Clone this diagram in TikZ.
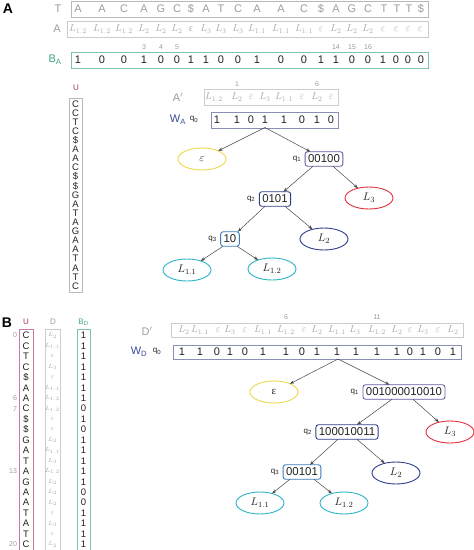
\documentclass[tikz,border=0pt]{standalone}
\usepackage{fontspec}
\setmainfont{Liberation Sans}
\newfontfamily\grk{Liberation Serif}
\usetikzlibrary{shapes.geometric,arrows.meta}
\newcommand\fsz[1]{\fontsize{#1}{#1}\selectfont}
\newcommand\Ll[1]{$L_{#1}$}
\newcommand\ve{$\varepsilon$}
\newcommand\ue{{\grk ε}}
\definecolor{txtgray}{HTML}{9C9C9C}
\definecolor{lighttxt}{HTML}{A8A8A8}
\definecolor{boxgray}{HTML}{B8B8B8}
\definecolor{lightbox}{HTML}{CCCCCC}
\definecolor{bagreen}{HTML}{3FA57E}
\definecolor{boxgreen}{HTML}{7CC3A8}
\definecolor{wblue}{HTML}{3A4B9A}
\definecolor{wbox}{HTML}{8A8FB8}
\definecolor{cyel}{HTML}{EDD84A}
\definecolor{cpur}{HTML}{6A58A4}
\definecolor{cred}{HTML}{E2303C}
\definecolor{cnavy}{HTML}{2F3E8E}
\definecolor{cblue}{HTML}{3A7DC0}
\definecolor{ccyan}{HTML}{2AB3C9}
\definecolor{umag}{HTML}{A0305E}
\definecolor{ubox}{HTML}{C77AA5}
\definecolor{dtxt}{HTML}{222222}
\begin{document}
\begin{tikzpicture}[x=1pt,y=-1pt,
  every node/.style={inner sep=0pt,outer sep=0pt},
  panel/.style={font=\fsz{14}\bfseries,text=black},
  lab/.style={font=\fsz{11}},
  cell/.style={font=\fsz{11},text=txtgray},
  lcell/.style={font=\fsz{10},text=lighttxt},
  bit/.style={font=\fsz{11},text=dtxt},
  idx/.style={font=\fsz{7},text=txtgray},
  qlab/.style={font=\fsz{8},text=dtxt,anchor=east},
  bnode/.style={rectangle,rounded corners=2.5pt,line width=0.9pt,inner xsep=3pt,inner ysep=0pt,minimum height=14.5pt,font=\fsz{11.4},text=dtxt},
  ell/.style={ellipse,line width=0.9pt,minimum width=48pt,minimum height=22pt,font=\fsz{11},text=dtxt},
  arr/.style={draw=black!72,line width=0.5pt,-{Stealth[length=4.5pt,width=3.2pt]}},
  ucell/.style={font=\fsz{9.5},text=dtxt},
  dcell/.style={font=\fsz{6.5},text=lighttxt},
  gcell/.style={font=\fsz{9.5},text=dtxt}]
\useasboundingbox (0,0) rectangle (474,550);

% ---------------- Panel A ----------------
\node[panel] (pA) at (8,9) {A};
\node[lab,text=txtgray] (lT) at (58,9) {T};
\draw[boxgray,line width=0.8pt] (71,1) rectangle (428,17);
\foreach \x/\c [count=\i] in {78/A,102/A,124/C,144/A,161/G,177/C,191/\$,206/A,221/T,238/C,257/A,281/A,304/C,321/\$,336/A,352/G,368/C,384/T,397/T,409/T,421/\$}
  \node[cell] (t\i) at (\x,9) {\c};

\node[lab,text=txtgray] (lA) at (57,29) {A};
\draw[lightbox,line width=0.8pt] (67,21) rectangle (428,37);
\foreach \x/\c [count=\i] in {78/\Ll{1.2},102/\Ll{1.2},124/\Ll{1.2},144/\Ll{2},161/\Ll{2},177/\Ll{2},191/\ue,206/\Ll{3},221/\Ll{3},238/\Ll{3},257/\Ll{1.1},281/\Ll{1.1},304/\Ll{1.1},321/\ve,336/\Ll{2},352/\Ll{2},368/\Ll{2},383/\ve,396/\ve,408/\ve,420/\ve}
  \node[lcell] (a\i) at (\x,29) {\c};

\foreach \x/\n in {144/3,161/4,177/5,336/14,352/15,368/16}
  \node[idx] (n\n) at (\x,47) {\n};

\node[lab,text=bagreen] (lBA) at (55,60) {B\textsubscript{A}};
\draw[boxgreen,line width=0.8pt] (71,52) rectangle (428,68);
\foreach \x/\b [count=\i] in {78/1,102/0,124/0,144/1,161/0,177/0,191/1,206/1,221/0,238/0,257/1,281/0,304/0,321/1,336/1,352/0,368/0,383/1,396/0,408/0,421/0}
  \node[bit] (ba\i) at (\x,60) {\b};

% U column (A)
\node[font=\fsz{8},text=umag] (lUA) at (76,88) {U};
\draw[boxgray,line width=0.8pt] (69,98) rectangle (82,292);
\foreach \c [count=\i from 0] in {C,C,T,C,\$,A,A,C,\$,\$,G,A,T,A,G,A,A,T,A,T,C}
  \node[ucell] (ua\i) at (75.5,{104+9.1*\i}) {\c};

% A' and W_A
\node[idx] (na1) at (237,84) {1};
\node[idx] (na6) at (317,84) {6};
\node[lab,text=txtgray] (lAp) at (178,97) {A$'$};
\draw[lightbox,line width=0.8pt] (204,89) rectangle (338,105);
\foreach \x/\c [count=\i] in {214/\Ll{1.2},237/\Ll{2},251/\ve,265/\Ll{3},284/\Ll{1.1},302/\ve,317/\Ll{2},331/\ve}
  \node[lcell] (ap\i) at (\x,97) {\c};
\node[lab,text=wblue] (lWA) at (178,120) {W\textsubscript{A}};
\node[font=\fsz{8},text=dtxt] (q0A) at (194,119.5) {q\textsubscript{0}};
\draw[wbox,line width=0.8pt] (211,112) rectangle (338,128);
\foreach \x/\b [count=\i] in {217/1,237/1,251/0,265/1,284/1,302/0,317/1,331/0}
  \node[bit] (wa\i) at (\x,120) {\b};
\coordinate (rootA) at (265,127.5);

% tree A
\node[ell,draw=cyel] (eA) at (202,159) {$\varepsilon$};
\node[bnode,draw=cpur] (qA1) at (324,159) {00100};
\node[qlab] (qA1l) at ([xshift=-4pt]qA1.west) {q\textsubscript{1}};
\node[ell,draw=cred] (LA3) at (369,198) {$L_3$};
\node[bnode,draw=cnavy] (qA2) at (275,199) {0101};
\node[qlab] (qA2l) at ([xshift=-4pt]qA2.west) {q\textsubscript{2}};
\node[ell,draw=cnavy] (LA2) at (324,239) {$L_2$};
\node[bnode,draw=cblue] (qA3) at (230,239) {10};
\node[qlab] (qA3l) at ([xshift=-4pt]qA3.west) {q\textsubscript{3}};
\node[ell,draw=ccyan] (LA11) at (187,270) {$L_{1.1}$};
\node[ell,draw=ccyan] (LA12) at (272,269) {$L_{1.2}$};

\draw[arr] (rootA) -- (eA);
\draw[arr] (rootA) -- (qA1);
\draw[arr] ([xshift=-11pt]qA1.south) -- (qA2);
\draw[arr] ([xshift=9pt]qA1.south) -- (LA3);
\draw[arr] ([xshift=-10pt]qA2.south) -- (qA3);
\draw[arr] ([xshift=10pt]qA2.south) -- (LA2);
\draw[arr] ([xshift=-7pt]qA3.south) -- (LA11);
\draw[arr] ([xshift=7pt]qA3.south) -- (LA12);

% ---------------- Panel B ----------------
\node[panel] (pB) at (7,323) {B};
\node[font=\fsz{8},text=umag] (lUB) at (26,322) {U};
\node[font=\fsz{8},text=txtgray] (lDB) at (53,322) {D};
\node[font=\fsz{8},text=bagreen] (lBD) at (83.5,322) {B\textsubscript{D}};
\draw[ubox,line width=0.8pt] (19,329) rectangle (33,556);
\draw[lightbox,line width=0.8pt] (45,329) rectangle (60,556);
\draw[boxgreen,line width=0.8pt] (77,329) rectangle (90,556);
\foreach \c [count=\i from 0] in {C,C,T,C,\$,A,A,C,\$,\$,G,A,T,A,G,A,A,T,A,T,C}
  \node[gcell] (ub\i) at (26,{335.5+10.45*\i}) {\c};
\foreach \c [count=\i from 0] in {\Ll{2},\Ll{1.1},\ve,\Ll{3},\ve,\Ll{1.1},\Ll{1.2},\Ll{1.2},\ve,\ve,\Ll{2},\Ll{1.1},\Ll{3},\Ll{1.2},\Ll{2},\Ll{2},\Ll{2},\ve,\Ll{3},\ve,\Ll{2}}
  \node[dcell] (db\i) at (52.5,{335.5+10.45*\i}) {\c};
\foreach \b [count=\i from 0] in {1,1,1,1,1,1,1,0,1,0,1,1,1,1,1,0,0,1,1,1,1}
  \node[gcell] (bd\i) at (83.5,{335.5+10.45*\i}) {\b};
\foreach \n in {0,6,7,13,20}
  \node[idx,anchor=east] (ib\n) at (17,{335.5+10.45*\n}) {\n};

% D' and W_D
\node[idx] (nd6) at (286,317) {6};
\node[idx] (nd11) at (377,317) {11};
\node[lab,text=txtgray] (lDp) at (147,331) {D$'$};
\draw[lightbox,line width=0.8pt] (171,323) rectangle (463,337);
\foreach \x/\c [count=\i] in {184/\Ll{2},200/\Ll{1.1},218/\ve,230/\Ll{3},245/\ve,263/\Ll{1.1},286/\Ll{1.2},304/\ve,317/\Ll{2},337/\Ll{1.1},355/\Ll{3},377/\Ll{1.2},397/\Ll{2},410/\ve,423/\Ll{3},438/\ve,453/\Ll{2}}
  \node[lcell] (dp\i) at (\x,330) {\c};
\node[lab,text=wblue] (lWD) at (139,352) {W\textsubscript{D}};
\node[font=\fsz{8},text=dtxt] (q0D) at (157,351.5) {q\textsubscript{0}};
\draw[wbox,line width=0.8pt] (173,345) rectangle (461,359);
\foreach \x/\b [count=\i] in {182/1,200/1,217/0,230/1,245/0,263/1,286/1,302/0,317/1,337/1,356/1,377/1,397/1,410/0,423/1,438/0,453/1}
  \node[bit] (wd\i) at (\x,352) {\b};
\coordinate (rootD) at (338,359);

% tree D
\node[ell,draw=cyel] (eD) at (274,392) {\ue};
\node[bnode,draw=cpur] (qD1) at (404,392) {001000010010};
\node[qlab] (qD1l) at ([xshift=-4pt]qD1.west) {q\textsubscript{1}};
\node[ell,draw=cred] (LD3) at (450,432) {$L_3$};
\node[bnode,draw=cnavy] (qD2) at (347,432) {100010011};
\node[qlab] (qD2l) at ([xshift=-4pt]qD2.west) {q\textsubscript{2}};
\node[ell,draw=cnavy] (LD2) at (396,473) {$L_2$};
\node[bnode,draw=cblue] (qD3) at (302,472) {00101};
\node[qlab] (qD3l) at ([xshift=-4pt]qD3.west) {q\textsubscript{3}};
\node[ell,draw=ccyan] (LD11) at (260,503) {$L_{1.1}$};
\node[ell,draw=ccyan] (LD12) at (344,503) {$L_{1.2}$};

\draw[arr] (rootD) -- (eD);
\draw[arr] (rootD) -- (qD1);
\draw[arr] ([xshift=-12pt]qD1.south) -- (qD2);
\draw[arr] ([xshift=9pt]qD1.south) -- (LD3);
\draw[arr] ([xshift=-9pt]qD2.south) -- (qD3);
\draw[arr] ([xshift=10pt]qD2.south) -- (LD2);
\draw[arr] ([xshift=-12pt]qD3.south) -- (LD11);
\draw[arr] ([xshift=12pt]qD3.south) -- (LD12);
\end{tikzpicture}
\end{document}
